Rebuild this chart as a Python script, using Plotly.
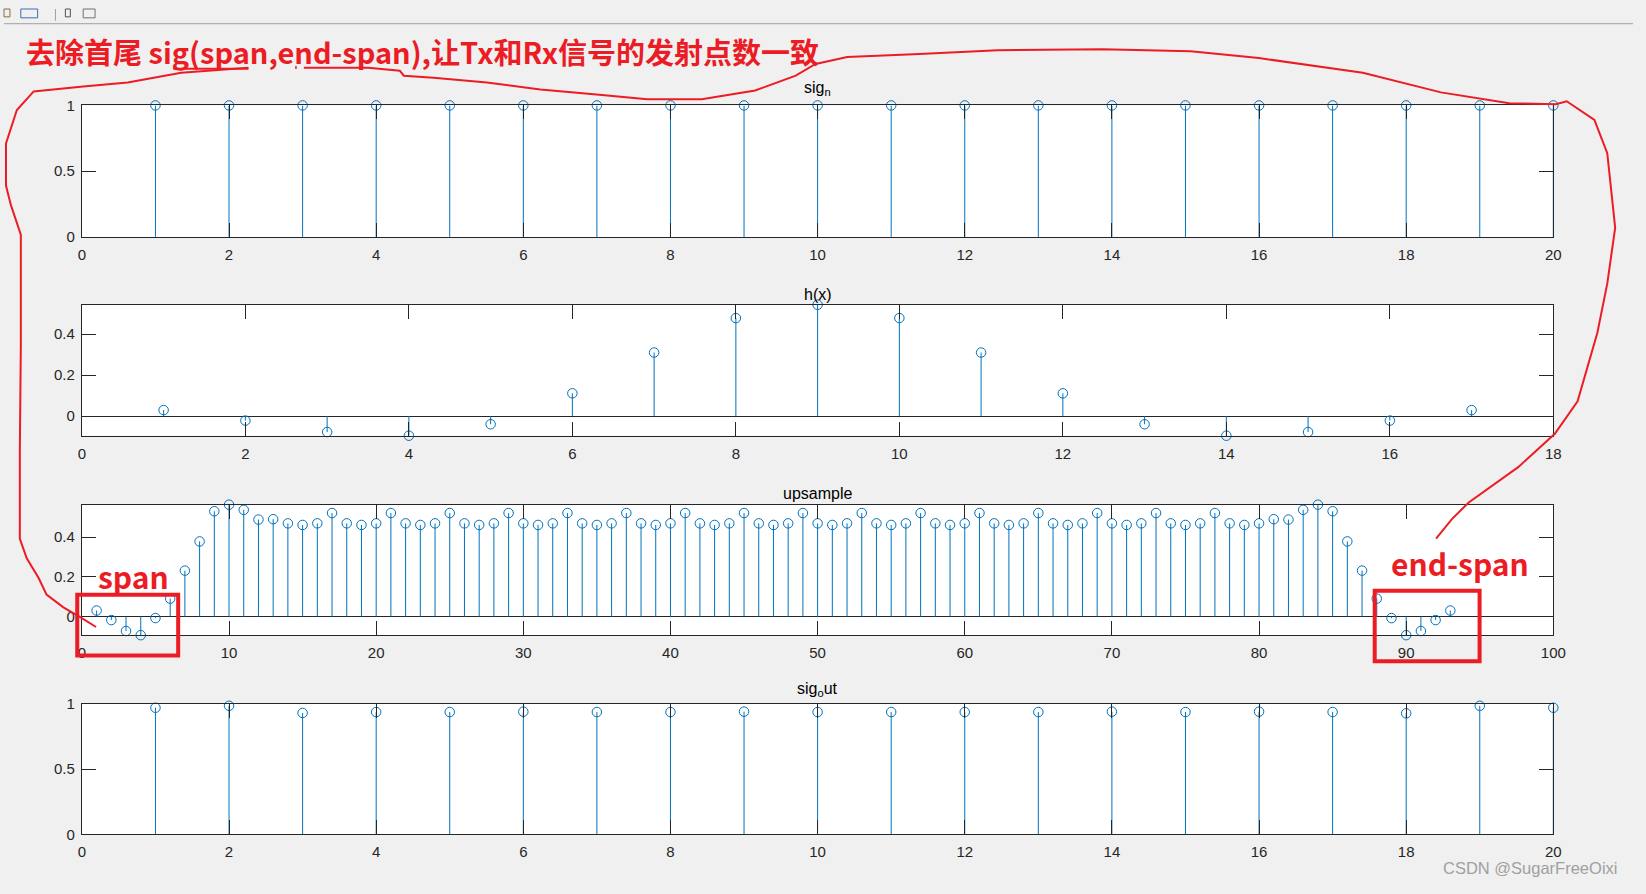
import plotly.graph_objects as go

W, H = 1646, 894

# ---------------- data ----------------
sig_n_x = list(range(1, 21))
sig_n_vals = [1, 1, 1, 1, 1, 1, 1, 1, 1, 1, 1, 1, 1, 1, 1, 1, 1, 1, 1, 1]

h_x = list(range(1, 18))
h_vals = [0.029, -0.022, -0.078, -0.096, -0.040, 0.111, 0.310, 0.478, 0.543,
          0.478, 0.310, 0.111, -0.040, -0.096, -0.078, -0.022, 0.029]

up_x = list(range(1, 94))
up_vals = [
    0.030, -0.018, -0.073, -0.094, -0.008, 0.090, 0.231, 0.378, 0.530, 0.563,
    0.537, 0.488, 0.490, 0.469, 0.461, 0.469, 0.521, 0.469, 0.461, 0.469,
    0.521, 0.469, 0.461, 0.469, 0.521, 0.469, 0.461, 0.469, 0.521, 0.469,
    0.461, 0.469, 0.521, 0.469, 0.461, 0.469, 0.521, 0.469, 0.461, 0.469,
    0.521, 0.469, 0.461, 0.469, 0.521, 0.469, 0.461, 0.469, 0.521, 0.469,
    0.461, 0.469, 0.521, 0.469, 0.461, 0.469, 0.521, 0.469, 0.461, 0.469,
    0.521, 0.469, 0.461, 0.469, 0.521, 0.469, 0.461, 0.469, 0.521, 0.469,
    0.461, 0.469, 0.521, 0.469, 0.461, 0.469, 0.521, 0.469, 0.461, 0.469,
    0.490, 0.488, 0.537, 0.563, 0.530, 0.378, 0.231, 0.090, -0.008, -0.094,
    -0.073, -0.018, 0.030,
]

out_x = list(range(1, 21))
out_vals = [0.970, 0.985, 0.930, 0.937, 0.937, 0.940, 0.937, 0.937, 0.940, 0.937,
            0.937, 0.937, 0.937, 0.940, 0.937, 0.940, 0.937, 0.927, 0.985, 0.970]

titles = ["sig<sub>n</sub>", "h(x)", "upsample", "sig<sub>o</sub>ut"]
x_ranges = [(0, 20), (0, 18), (0, 100), (0, 20)]
x_dticks = [2, 2, 10, 2]
y_tickvals = [[0, 0.5, 1], [0, 0.2, 0.4], [0, 0.2, 0.4], [0, 0.5, 1]]
y_ticktext = [["0", "0.5", "1"], ["0", "0.2", "0.4"], ["0", "0.2", "0.4"], ["0", "0.5", "1"]]

# ---------------- layout geometry (pixels) ----------------
ax_left, ax_right = 78.7, 1565.5
panel_px = [(98.3, 232.3), (301.5, 435.0), (505.3, 638.3), (708.3, 841.3)]
title_px = [81, 291, 494, 694]

STEM = "#0072BD"
AXC = "#262626"
RED = "#EC1C24"

def px(x):
    return x / W

def py(y):
    return 1 - y / H

fig = go.Figure()

series = [(sig_n_x, sig_n_vals), (h_x, h_vals), (up_x, up_vals), (out_x, out_vals)]
y_ranges = [(0, 1), (min(h_vals), max(h_vals)), (min(up_vals), max(up_vals)), (0, 1)]

for i, (xs, ys) in enumerate(series):
    k = "" if i == 0 else str(i + 1)
    sx, sy = [], []
    for xv, yv in zip(xs, ys):
        sx += [xv, xv, None]
        sy += [0, yv, None]
    fig.add_trace(go.Scatter(x=sx, y=sy, mode="lines",
                             line=dict(color=STEM, width=1),
                             xaxis="x" + k, yaxis="y" + k, showlegend=False,
                             hoverinfo="skip"))
    fig.add_trace(go.Scatter(x=xs, y=ys, mode="markers",
                             marker=dict(symbol="circle-open", size=9.5,
                                         color=STEM, line=dict(width=1, color=STEM)),
                             cliponaxis=False,
                             xaxis="x" + k, yaxis="y" + k, showlegend=False))
    top, bot = panel_px[i]
    axis_common = dict(showgrid=False, showline=True, linecolor=AXC, linewidth=1,
                       mirror="ticks", ticks="inside", ticklen=14, tickwidth=1,
                       tickcolor=AXC,
                       tickfont=dict(family="Liberation Sans", size=15, color=AXC))
    fig.update_layout(**{
        "xaxis" + k: dict(domain=[px(ax_left), px(ax_right)], range=list(x_ranges[i]),
                          dtick=x_dticks[i], tick0=0, anchor="y" + k,
                          zeroline=False, ticklabelstandoff=4, **axis_common),
        "yaxis" + k: dict(domain=[py(bot), py(top)], range=list(y_ranges[i]),
                          tickvals=y_tickvals[i], ticktext=y_ticktext[i],
                          anchor="x" + k, zeroline=True, zerolinecolor=AXC,
                          zerolinewidth=1, ticklabelstandoff=3, **axis_common),
    })
    fig.add_annotation(text=titles[i], xref="paper", yref="paper",
                       x=px((ax_left + ax_right) / 2), y=py(title_px[i]),
                       xanchor="center", yanchor="middle", showarrow=False,
                       font=dict(family="Liberation Sans", size=16, color="#000000"))

# ---------------- red hand annotations ----------------
def path_of(points):
    s = "M {:.5f},{:.5f}".format(px(points[0][0]), py(points[0][1]))
    for (x, y) in points[1:]:
        s += " L {:.5f},{:.5f}".format(px(x), py(y))
    return s

left_curve = [(93, 630), (77, 620), (60, 610), (43, 597), (35, 580), (23, 560),
              (16, 540), (16, 450), (17, 343), (17, 230), (7, 200), (2, 180),
              (2, 137), (13, 103), (30, 84), (80, 79), (125, 75), (179, 65),
              (247, 60)]
span_underline = [(171, 61), (247, 61)]
right_curve = [(303, 60), (368, 60), (400, 63), (404, 68), (434, 70), (488, 75),
               (542, 82), (596, 87), (650, 92), (705, 92), (759, 83), (800, 68),
               (820, 56), (852, 49), (925, 46), (1004, 42), (1110, 41), (1199, 43),
               (1268, 50), (1373, 65), (1452, 85), (1521, 96), (1568, 97),
               (1579, 94), (1607, 113), (1620, 147), (1628, 223), (1620, 280),
               (1610, 330), (1590, 400), (1567, 433), (1530, 467), (1480, 503),
               (1463, 520), (1447, 540)]

for pts in (left_curve, span_underline, right_curve):
    fig.add_shape(type="path", path=path_of(pts), xref="paper", yref="paper",
                  line=dict(color=RED, width=2))
fig.add_shape(type="line", xref="paper", yref="paper",
              x0=px(295), x1=px(295), y0=py(58), y1=py(63),
              line=dict(color=RED, width=1.5, dash="dot"))

# boxes
for (x0, y0, x1, y1) in [(74, 597, 176, 659), (1385, 593, 1491, 665)]:
    fig.add_shape(type="rect", xref="paper", yref="paper",
                  x0=px(x0), x1=px(x1), y0=py(y0), y1=py(y1),
                  line=dict(color=RED, width=4))

fig.add_annotation(text="<b>去除首尾 sig(span,end-span),让Tx和Rx信号的发射点数一致</b>",
                   xref="paper", yref="paper", x=px(20), y=py(43),
                   xanchor="left", yanchor="middle", showarrow=False,
                   font=dict(family="Noto Sans CJK SC", size=29, color=RED))
fig.add_annotation(text="<b>span</b>", xref="paper", yref="paper",
                   x=px(131), y=py(578), xanchor="center", yanchor="middle",
                   showarrow=False,
                   font=dict(family="Noto Sans CJK SC", size=30, color=RED))
fig.add_annotation(text="<b>end-span</b>", xref="paper", yref="paper",
                   x=px(1471), y=py(565), xanchor="center", yanchor="middle",
                   showarrow=False,
                   font=dict(family="Noto Sans CJK SC", size=30, color=RED))

# watermark
fig.add_annotation(text="CSDN @SugarFreeOixi", xref="paper", yref="paper",
                   x=px(1632), y=py(876), xanchor="right", yanchor="middle",
                   showarrow=False,
                   font=dict(family="Liberation Sans", size=16.5, color="#A0A0A0"))

# toolbar strip
fig.add_shape(type="line", xref="paper", yref="paper", x0=0, x1=1,
              y0=py(15), y1=py(15), line=dict(color="#A0A0A0", width=1))
for (x0, y0, x1, y1, c) in [(0, 0, 6, 8, "#8A6D3B"), (17, 0, 34, 9, "#3C6EB4"),
                            (62, 0, 67, 8, "#505050"), (80, 0, 92, 9, "#707070")]:
    fig.add_shape(type="rect", xref="paper", yref="paper",
                  x0=px(x0), x1=px(x1), y0=py(y1), y1=py(y0),
                  line=dict(color=c, width=1), fillcolor="rgba(0,0,0,0)")
fig.add_shape(type="line", xref="paper", yref="paper", x0=px(52), x1=px(52),
              y0=py(12), y1=py(0), line=dict(color="#A0A0A0", width=1))

fig.update_layout(width=W, height=H, margin=dict(l=0, r=0, t=0, b=0),
                  paper_bgcolor="#F0F0F0", plot_bgcolor="#FFFFFF",
                  showlegend=False)

fig.write_html("out.html", config={"displayModeBar": False},
               post_script="document.body.style.margin='0';"
                           "document.body.style.overflow='hidden';"
                           "document.body.style.background='#F0F0F0';")
